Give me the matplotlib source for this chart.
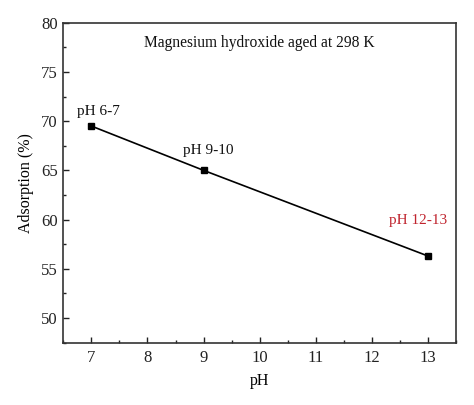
import matplotlib
matplotlib.use("Agg")
import matplotlib.pyplot as plt
from matplotlib.ticker import MultipleLocator

ph = [7, 9, 13]
adsorption = [69.5, 65.0, 56.3]
labels = ["pH 6-7", "pH 9-10", "pH 12-13"]
label_colors = ["#111111", "#111111", "#c0242e"]
title_text = "Magnesium hydroxide aged at 298 K"

plt.rcParams['font.family'] = ['Liberation Serif', 'DejaVu Serif']

fig = plt.figure(figsize=(4.74, 4.05), dpi=100)
ax = fig.add_axes([0.1336, 0.154, 0.962 - 0.1336, 0.944 - 0.154])

ax.plot(ph, adsorption, color='black', lw=1.2, marker='s', markersize=5,
        markerfacecolor='black', markeredgecolor='black')

offsets = [(7.12, 71.0), (9.08, 67.05), (12.82, 59.9)]
for (tx, ty), lab, col in zip(offsets, labels, label_colors):
    ax.text(tx, ty, lab, ha='center', va='center', fontsize=11, color=col)

ax.text(10.0, 77.9, title_text, ha='center', va='center', fontsize=11.2, color='#111111')

ax.set_xlim(6.5, 13.5)
ax.set_ylim(47.5, 80)
ax.xaxis.set_major_locator(MultipleLocator(1))
ax.xaxis.set_minor_locator(MultipleLocator(0.5))
ax.yaxis.set_major_locator(MultipleLocator(5))
ax.yaxis.set_minor_locator(MultipleLocator(2.5))
ax.tick_params(which='both', direction='in', labelsize=12, colors='#222222')
ax.tick_params(which='major', length=4, width=1.0)
ax.tick_params(which='minor', length=2.5, width=1.0)
ax.tick_params(axis='x', pad=5)
ax.tick_params(axis='y', pad=4)
for s in ax.spines.values():
    s.set_linewidth(1.2)
    s.set_color('#333333')

ax.set_xlabel("pH", fontsize=11.5, labelpad=5)
ax.set_ylabel("Adsorption (%)", fontsize=11.5, labelpad=5)

fig.savefig("out.png", dpi=100)
